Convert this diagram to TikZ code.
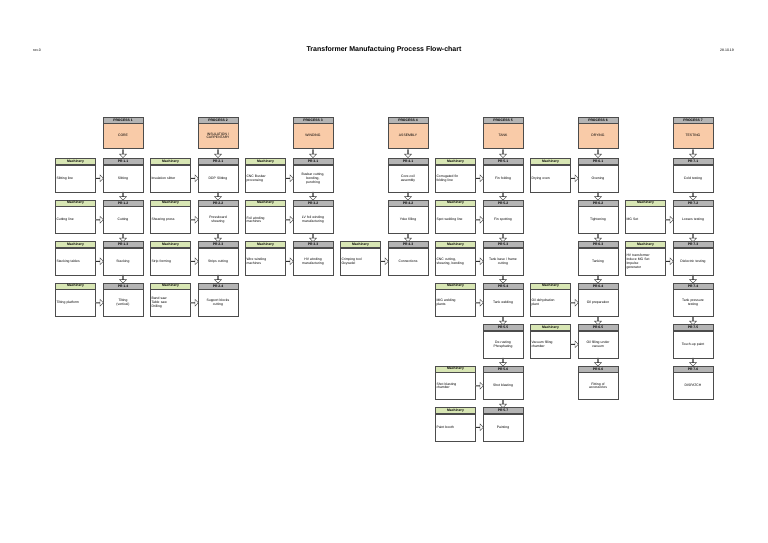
\documentclass[tikz,border=0pt]{standalone}
\usepackage{fontspec}
\setmainfont{Liberation Sans}
\usetikzlibrary{shapes.arrows}
\definecolor{hdr}{HTML}{B4B4B4}
\definecolor{mhdr}{HTML}{D8E6B4}
\definecolor{org}{HTML}{F9CBA8}
\newcommand\wee{\fontsize{3.4}{3.9}\selectfont}
\tikzset{
 body/.style={draw=black!70, line width=0.3pt, fill=white, minimum width=40pt, minimum height=27pt, inner sep=1pt, font=\wee},
 prbody/.style={body, align=center, text width=37pt},
 mbody/.style={body, align=left, text width=38pt},
 hbox/.style={draw=black!70, line width=0.3pt, minimum width=40pt, minimum height=6pt, inner sep=0pt, font=\wee\bfseries},
 prh/.style={hbox, fill=hdr},
 mh/.style={hbox, fill=mhdr},
 obody/.style={body, fill=org, minimum height=25pt, align=center, text width=37pt},
 barrow/.style={single arrow, draw=black!80, fill=white, line width=0.35pt, minimum height=8pt, minimum width=7pt, single arrow head extend=1.5pt, inner sep=0pt},
}
\newcommand\PR[5]{% name col row title text
 \pgfmathsetmacro\cx{75.5+47.5*#2}\pgfmathsetmacro\cy{158.5+41.5*(#3-1)}
 \node[prh] (#1h) at (\cx,\cy+3) {#4};
 \node[prbody, anchor=north] (#1) at (#1h.south) {#5};}
\newcommand\MB[4]{% name col row text
 \pgfmathsetmacro\cx{75.5+47.5*#2}\pgfmathsetmacro\cy{158.5+41.5*(#3-1)}
 \node[mh] (#1h) at (\cx,\cy+3) {Machinery};
 \node[mbody, anchor=north] (#1) at (#1h.south) {#4};}
\newcommand\PC[4]{% name col title text
 \pgfmathsetmacro\cx{75.5+47.5*#2}
 \node[prh] (#1h) at (\cx,120) {#3};
 \node[obody, anchor=north] (#1) at (#1h.south) {#4};}
\newcommand\DA[2]{\path (#1.south) -- (#2h.north) node[midway, barrow, shape border rotate=270]{};}
\newcommand\RA[2]{\path (#1.east) -- (#2.west) node[midway, barrow]{};}
\begin{document}
\begin{tikzpicture}[x=1pt,y=-1pt]
\useasboundingbox (0,0) rectangle (768,543);
\node[font=\fontsize{3.5}{4}\selectfont] (rev) at (37,50) {rev.0};
\node[font=\fontsize{7}{8}\selectfont\bfseries] (title) at (384,50) {Transformer Manufactuing Process Flow-chart};
\node[font=\fontsize{3.5}{4}\selectfont] (date) at (727,50) {28.10.19};
% processes
\PC{P1}{1}{PROCESS 1}{CORE}
\PC{P2}{3}{PROCESS 2}{INSULATION /\\CARPENTARY}
\PC{P3}{5}{PROCESS 3}{WINDING}
\PC{P4}{7}{PROCESS 4}{ASSEMBLY}
\PC{P5}{9}{PROCESS 5}{TANK}
\PC{P6}{11}{PROCESS 6}{DRYING}
\PC{P7}{13}{PROCESS 7}{TESTING}
% column 1
\MB{ma1}{0}{1}{Slitting line}\PR{a1}{1}{1}{PR 1.1}{Slitting}
\MB{ma2}{0}{2}{Cutting line}\PR{a2}{1}{2}{PR 1.2}{Cutting}
\MB{ma3}{0}{3}{Stacking tables}\PR{a3}{1}{3}{PR 1.3}{Stacking}
\MB{ma4}{0}{4}{Tilting platform}\PR{a4}{1}{4}{PR 1.4}{Tilting\\(vertical)}
% column 2
\MB{mb1}{2}{1}{Insulation slitter}\PR{b1}{3}{1}{PR 2.1}{DDP Slitting}
\MB{mb2}{2}{2}{Shearing press}\PR{b2}{3}{2}{PR 2.2}{Pressboard\\shearing}
\MB{mb3}{2}{3}{Strip forming}\PR{b3}{3}{3}{PR 2.3}{Strips cutting}
\MB{mb4}{2}{4}{Band saw\\Table saw\\Drilling}\PR{b4}{3}{4}{PR 2.4}{Support blocks\\cutting}
% column 3
\MB{mc1}{4}{1}{CNC Busbar\\processing}\PR{c1}{5}{1}{PR 3.1}{Busbar cutting,\\bending,\\punching}
\MB{mc2}{4}{2}{Foil winding\\machines}\PR{c2}{5}{2}{PR 3.2}{LV foil winding\\manufacturing}
\MB{mc3}{4}{3}{Wire winding\\machines}\PR{c3}{5}{3}{PR 3.3}{HV winding\\manufacturing}
% column 4
\PR{d1}{7}{1}{PR 4.1}{Core-coil\\assembly}
\PR{d2}{7}{2}{PR 4.2}{Yoke filling}
\MB{md3}{6}{3}{Crimping tool\\Oxywelel}\PR{d3}{7}{3}{PR 4.3}{Connections}
% column 5
\MB{me1}{8}{1}{Corrugated fin\\folding line}\PR{e1}{9}{1}{PR 5.1}{Fin folding}
\MB{me2}{8}{2}{Spot welding line}\PR{e2}{9}{2}{PR 5.2}{Fin spotting}
\MB{me3}{8}{3}{CNC cutting,\\shearing, bending}\PR{e3}{9}{3}{PR 5.3}{Tank base / frame\\cutting}
\MB{me4}{8}{4}{MIG welding\\plants}\PR{e4}{9}{4}{PR 5.4}{Tank welding}
\PR{e5}{9}{5}{PR 5.5}{De-rusting\\Phosphating}
\MB{me6}{8}{6}{Shot blasting\\chamber}\PR{e6}{9}{6}{PR 5.6}{Shot blasting}
\MB{me7}{8}{7}{Paint booth}\PR{e7}{9}{7}{PR 5.7}{Painting}
% column 6
\MB{mf1}{10}{1}{Drying oven}\PR{f1}{11}{1}{PR 6.1}{Ovening}
\PR{f2}{11}{2}{PR 6.2}{Tightening}
\PR{f3}{11}{3}{PR 6.3}{Tanking}
\MB{mf4}{10}{4}{Oil dehydration\\plant}\PR{f4}{11}{4}{PR 6.4}{Oil preparation}
\MB{mf5}{10}{5}{Vacuum filling\\chamber}\PR{f5}{11}{5}{PR 6.5}{Oil filling under\\vacuum}
\PR{f6}{11}{6}{PR 6.6}{Fitting of\\accessories}
% column 7
\PR{g1}{13}{1}{PR 7.1}{Cold testing}
\MB{mg2}{12}{2}{MG Set}\PR{g2}{13}{2}{PR 7.2}{Losses testing}
\MB{mg3}{12}{3}{HV transformer\\Induce MG Set\\Impulse\\generator}\PR{g3}{13}{3}{PR 7.3}{Dielectric testing}
\PR{g4}{13}{4}{PR 7.4}{Tank pressure\\testing}
\PR{g5}{13}{5}{PR 7.5}{Touch-up paint}
\PR{g6}{13}{6}{PR 7.6}{DISPATCH}
% down arrows
\DA{P1}{a1}\DA{a1}{a2}\DA{a2}{a3}\DA{a3}{a4}
\DA{P2}{b1}\DA{b1}{b2}\DA{b2}{b3}\DA{b3}{b4}
\DA{P3}{c1}\DA{c1}{c2}\DA{c2}{c3}
\DA{P4}{d1}\DA{d1}{d2}\DA{d2}{d3}
\DA{P5}{e1}\DA{e1}{e2}\DA{e2}{e3}\DA{e3}{e4}\DA{e4}{e5}\DA{e5}{e6}\DA{e6}{e7}
\DA{P6}{f1}\DA{f1}{f2}\DA{f2}{f3}\DA{f3}{f4}\DA{f4}{f5}\DA{f5}{f6}
\DA{P7}{g1}\DA{g1}{g2}\DA{g2}{g3}\DA{g3}{g4}\DA{g4}{g5}\DA{g5}{g6}
% right arrows
\RA{ma1}{a1}\RA{ma2}{a2}\RA{ma3}{a3}\RA{ma4}{a4}
\RA{mb1}{b1}\RA{mb2}{b2}\RA{mb3}{b3}\RA{mb4}{b4}
\RA{mc1}{c1}\RA{mc2}{c2}\RA{mc3}{c3}
\RA{md3}{d3}
\RA{me1}{e1}\RA{me2}{e2}\RA{me3}{e3}\RA{me4}{e4}\RA{me6}{e6}\RA{me7}{e7}
\RA{mf1}{f1}\RA{mf4}{f4}\RA{mf5}{f5}
\RA{mg2}{g2}\RA{mg3}{g3}
\end{tikzpicture}
\end{document}
